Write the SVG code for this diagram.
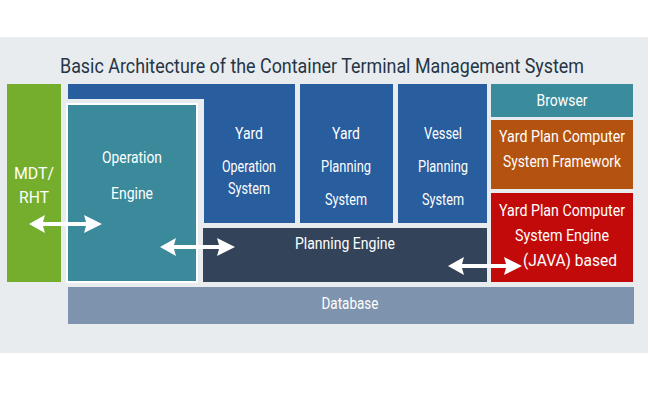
<svg xmlns="http://www.w3.org/2000/svg" width="650" height="400" viewBox="0 0 650 400">
<style>
.t{font-family:"Roboto","Liberation Sans",Arial,sans-serif;fill:#ffffff;font-size:17px;text-anchor:middle}
.title{font-family:"Roboto","Liberation Sans",Arial,sans-serif;fill:#253545;font-size:20px;text-anchor:middle}
.arr{fill:#ffffff}
</style>
<rect x="0" y="0" width="650" height="400" fill="#ffffff"/>
<rect x="0" y="37" width="648" height="316" fill="#e8ecef"/>
<text class="title" x="322" y="73" textLength="524" lengthAdjust="spacingAndGlyphs">Basic Architecture of the Container Terminal Management System</text>

<g id="mdt">
<rect x="7" y="84" width="54" height="198" fill="#74ae2c"/>
<text class="t" x="34" y="179" textLength="40" lengthAdjust="spacingAndGlyphs">MDT/</text>
<text class="t" x="34" y="203" textLength="30" lengthAdjust="spacingAndGlyphs">RHT</text>
</g>

<g id="yard-operation">
<path d="M68,84 H295 V223 H204 V99 H68 Z" fill="#285d9e"/>
<text class="t" x="249" y="139" textLength="28" lengthAdjust="spacingAndGlyphs">Yard</text>
<text class="t" x="249" y="172" textLength="54" lengthAdjust="spacingAndGlyphs">Operation</text>
<text class="t" x="249" y="194" textLength="42" lengthAdjust="spacingAndGlyphs">System</text>
</g>

<g id="operation-engine">
<rect x="67" y="104" width="130" height="178" fill="#3a8a9b" stroke="#ffffff" stroke-width="2"/>
<text class="t" x="132" y="163" textLength="60" lengthAdjust="spacingAndGlyphs">Operation</text>
<text class="t" x="132" y="199" textLength="42" lengthAdjust="spacingAndGlyphs">Engine</text>
</g>

<g id="yard-planning">
<rect x="300" y="84" width="93" height="139" fill="#285d9e"/>
<text class="t" x="346" y="139" textLength="28" lengthAdjust="spacingAndGlyphs">Yard</text>
<text class="t" x="346" y="172" textLength="50" lengthAdjust="spacingAndGlyphs">Planning</text>
<text class="t" x="346" y="205" textLength="42" lengthAdjust="spacingAndGlyphs">System</text>
</g>

<g id="vessel-planning">
<rect x="398" y="84" width="89" height="139" fill="#285d9e"/>
<text class="t" x="443" y="139" textLength="38" lengthAdjust="spacingAndGlyphs">Vessel</text>
<text class="t" x="443" y="172" textLength="50" lengthAdjust="spacingAndGlyphs">Planning</text>
<text class="t" x="443" y="205" textLength="42" lengthAdjust="spacingAndGlyphs">System</text>
</g>

<g id="browser">
<rect x="491" y="84" width="142" height="33" fill="#3a8c9c"/>
<text class="t" x="562" y="106" textLength="51" lengthAdjust="spacingAndGlyphs">Browser</text>
</g>

<g id="framework">
<rect x="491" y="120" width="142" height="69" fill="#b4520f"/>
<text class="t" x="562" y="142" textLength="126" lengthAdjust="spacingAndGlyphs">Yard Plan Computer</text>
<text class="t" x="562" y="167" textLength="118" lengthAdjust="spacingAndGlyphs">System Framework</text>
</g>

<g id="yard-plan-engine">
<rect x="491" y="193" width="142" height="89" fill="#c20a0a"/>
<text class="t" x="562" y="216" textLength="126" lengthAdjust="spacingAndGlyphs">Yard Plan Computer</text>
<text class="t" x="562" y="241" textLength="94" lengthAdjust="spacingAndGlyphs">System Engine</text>
<text class="t" x="570" y="266" textLength="94" lengthAdjust="spacingAndGlyphs">(JAVA) based</text>
</g>

<g id="planning-engine">
<rect x="203" y="228" width="284" height="54" fill="#33445a"/>
<text class="t" x="345" y="249" textLength="100" lengthAdjust="spacingAndGlyphs">Planning Engine</text>
</g>

<g id="database">
<rect x="68" y="287" width="566" height="37" fill="#7e93ad"/>
<text class="t" x="350" y="309" textLength="57" lengthAdjust="spacingAndGlyphs">Database</text>
</g>

<g id="connectors">
<path class="arr" d="M29,224 L45,215 L43,222 L86,222 L84,215 L102,224 L84,233 L86,226 L43,226 L45,233 Z"/>
<path class="arr" d="M160,247 L176,238 L174,245 L219,245 L217,238 L235,247 L217,256 L219,249 L174,249 L176,256 Z"/>
<path class="arr" d="M448,266 L464,257 L462,264 L506,264 L504,257 L522,266 L504,275 L506,268 L462,268 L464,275 Z"/>
</g>
</svg>
